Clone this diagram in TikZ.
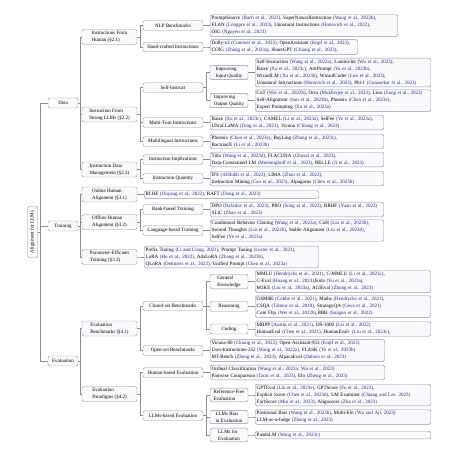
\documentclass[tikz,border=0pt]{standalone}
\usepackage{fontspec}
\setmainfont{Liberation Serif}
\definecolor{bordc}{HTML}{8A98AC}
\definecolor{fillc}{HTML}{FAFAFD}
\definecolor{linec}{HTML}{8C8C8C}
\definecolor{citec}{HTML}{22229A}
\newcommand\ct[1]{{\color{citec}(#1)}}
\newcommand\cn[3]{\draw[conn] (#1) -- ++(#3,0) |- (#2.west);}
\begin{document}
\begin{tikzpicture}[x=1pt,y=-1pt,
  box/.style={draw=bordc, fill=fillc, rounded corners=1.5pt, line width=0.45pt,
    font=\fontsize{5}{7}\selectfont, inner xsep=1.5pt, inner ysep=1.5pt},
  lvone/.style={box, minimum width=30pt, minimum height=10pt},
  lvtwo/.style={box, align=left, minimum width=55pt, minimum height=15pt},
  lvthree/.style={box, minimum width=60pt, minimum height=9.5pt},
  lvfour/.style={box, align=left, minimum width=38pt, minimum height=10pt},
  leaf/.style={box, align=left, anchor=west, text width=#1},
  conn/.style={draw=linec, line width=0.5pt}]
\useasboundingbox (0,0) rectangle (474,450);

% root
\node[box, rotate=90, minimum width=51pt, minimum height=10pt] (root) at (32.5,232) {Alignment for LLMs};

% level 1
\node[lvone] (data) at (63,103) {Data};
\node[lvone] (train) at (63,226) {Training};
\node[lvone] (eval) at (63,361) {Evaluation};

% level 2
\node[lvtwo] (ifh) at (109.5,37) {Instructions From\\Human (\S2.1)};
\node[lvtwo] (ifs) at (109.5,114.5) {Instruction From\\Strong LLMs (\S2.2)};
\node[lvtwo] (idm) at (109.5,169.5) {Instruction Data\\Management (\S2.3)};
\node[lvtwo] (oha) at (109.5,194.5) {Online Human\\Alignment (\S3.1)};
\node[lvtwo] (ofha) at (109.5,222) {Offline Human\\Alignment (\S3.2)};
\node[lvtwo] (pet) at (109.5,257) {Parameter-Efficient\\Training (\S3.3)};
\node[lvtwo] (evb) at (109.5,328.5) {Evaluation\\Benchmarks (\S4.1)};
\node[lvtwo] (evp) at (109.5,394) {Evaluation\\Paradigms (\S4.2)};

% level 3
\node[lvthree] (nlp) at (173,25.5) {NLP Benchmarks};
\node[lvthree] (hci) at (173,47) {Hand-crafted Instructions};
\node[lvthree] (si) at (173,87.5) {Self-Instruct};
\node[lvthree] (mti) at (173,122.5) {Multi-Turn Instructions};
\node[lvthree] (mli) at (173,141.5) {Multilingual Instructions};
\node[lvthree] (ii) at (173,159.5) {Instruction Implications};
\node[lvthree] (iq) at (173,178.5) {Instruction Quantity};
\node[lvthree] (rbt) at (173,209.5) {Rank-based Training};
\node[lvthree] (lbt) at (173,230.5) {Language-based Training};
\node[lvthree] (csb) at (173,306) {Closed-set Benchmarks};
\node[lvthree] (osb) at (173,350.5) {Open-set Benchmarks};
\node[lvthree] (hbe) at (173,372.5) {Human-based Evaluation};
\node[lvthree] (lle) at (173,415.5) {LLMs-based Evaluation};

% level 4
\node[lvfour] (iiq) at (229,72.5) {Improving\\Input Quality};
\node[lvfour] (ioq) at (229,100.5) {Improving\\Output Quality};
\node[lvfour] (gk) at (229,281.5) {General\\Knowledge};
\node[lvfour] (rs) at (229,306.5) {Reasoning};
\node[lvfour] (cd) at (229,329) {Coding};
\node[lvfour] (rfe) at (229,395) {Reference-Free\\Evaluation};
\node[lvfour] (lbe) at (229,417) {LLMs Bias\\in Evaluation};
\node[lvfour] (lfe) at (229,435) {LLMs for\\Evaluation};

% leaves
\node[leaf=184.5pt] (nlpL) at (210,25.5) {PromptSource \ct{Bach et al., 2022}, SuperNaturalInstruction \ct{Wang et al., 2022b},\\FLAN \ct{Longpre et al., 2023}, Unnatural Instructions \ct{Honovich et al., 2022},\\OIG \ct{Nguyen et al., 2023}};
\node[leaf=144.5pt] (hciL) at (210,47) {Dolly-v2 \ct{Conover et al., 2023}, OpenAssistant \ct{Kopf et al., 2023},\\COIG \ct{Zhang et al., 2023a}, ShareGPT \ct{Chiang et al., 2023},};
\node[leaf=172.5pt] (iiqL) at (255,72.5) {Self-Instruction \ct{Wang et al., 2022a}, Lamini-lm \ct{Wu et al., 2023},\\Baize \ct{Xu et al., 2023c}, AttrPrompt \ct{Yu et al., 2023b},\\WizardLM \ct{Xu et al., 2023b}, WizardCoder \ct{Luo et al., 2023},\\Unnatural Instructions \ct{Honovich et al., 2022}, Phi-1 \ct{Gunasekar et al., 2023}};
\node[leaf=172.5pt] (ioqL) at (255,100.5) {CoT \ct{Wei et al., 2022b}, Orca \ct{Mukherjee et al., 2023}, Lion \ct{Jiang et al., 2023}\\Self-Alignment \ct{Sun et al., 2023b}, Phoenix \ct{Chen et al., 2023e},\\Expert Prompting \ct{Xu et al., 2023a}};
\node[leaf=170.5pt] (mtiL) at (210,122.5) {Baize \ct{Xu et al., 2023c}, CAMEL \ct{Li et al., 2023a}, SelFee \ct{Ye et al., 2023a},\\UltraLLaMA \ct{Ding et al., 2023}, Vicuna \ct{Chiang et al., 2023}};
\node[leaf=170.5pt] (mliL) at (210,141.5) {Phoenix \ct{Chen et al., 2023e}, BayLing \ct{Zhang et al., 2023c},\\BactrianX \ct{Li et al., 2023b}};
\node[leaf=170.5pt] (iiL) at (210,159.5) {\textsc{T\"ulu} \ct{Wang et al., 2023d}, FLACUNA \ct{Ghosal et al., 2023},\\Data-Constrained LM \ct{Muennighoff et al., 2023}, BELLE \ct{Ji et al., 2023}};
\node[leaf=170.5pt] (iqL) at (210,178.5) {IFS \ct{AlShikh et al., 2023}, LIMA \ct{Zhou et al., 2023},\\Instruction Mining \ct{Cao et al., 2023}, Alpagasus \ct{Chen et al., 2023b}};
\node[leaf=171.5pt] (ohaL) at (144,194.5) {RLHF \ct{Ouyang et al., 2022}, RAFT \ct{Dong et al., 2023}};
\node[leaf=170.5pt] (rbtL) at (210,209.5) {DPO \ct{Rafailov et al., 2023}, PRO \ct{Song et al., 2023}, RRHF \ct{Yuan et al., 2023}\\SLiC \ct{Zhao et al., 2023}};
\node[leaf=170.5pt] (lbtL) at (210,230.5) {Conditional Behavior Cloning \ct{Wang et al., 2023a}, CoH \ct{Liu et al., 2023b},\\Second Thoughts \ct{Liu et al., 2022b}, Stable Alignment \ct{Liu et al., 2023d},\\SelFee \ct{Ye et al., 2023a}};
\node[leaf=171.5pt] (petL) at (144,257) {Prefix Tuning \ct{Li and Liang, 2021}, Prompt Tuning \ct{Lester et al., 2021},\\LoRA \ct{Hu et al., 2022}, AdaLoRA \ct{Zhang et al., 2023b},\\QLoRA \ct{Dettmers et al., 2023}, Unified Prompt \ct{Chen et al., 2023a}};
\node[leaf=172.5pt] (gkL) at (255,281.5) {MMLU \ct{Hendrycks et al., 2021}, C-MMLU \ct{Li et al., 2023c},\\C-Eval \ct{Huang et al., 2023},Kola \ct{Yu et al., 2023a},\\M3KE \ct{Liu et al., 2023a}, AGIEval \ct{Zhong et al., 2023}};
\node[leaf=172.5pt] (rsL) at (255,306.5) {GSM8K \ct{Cobbe et al., 2021}, Maths \ct{Hendrycks et al., 2021},\\CSQA \ct{Talmor et al., 2019}, StrategyQA \ct{Geva et al., 2021}\\Coin Flip \ct{Wei et al., 2022b},BBH \ct{Suzgun et al., 2022}};
\node[leaf=172.5pt] (cdL) at (255,329) {MBPP \ct{Austin et al., 2021}, DS-1000 \ct{Lai et al., 2022}\\HumanEval \ct{Chen et al., 2021}, HumanEval+ \ct{Liu et al., 2023c},};
\node[leaf=171.5pt] (osbL) at (210,350.5) {Vicuna-80 \ct{Chiang et al., 2023}, Open-Assistant-953 \ct{Kopf et al., 2023}\\User-Instructions-252 \ct{Wang et al., 2022a}, FLASK \ct{Ye et al., 2023b}\\MT-Bench \ct{Zheng et al., 2023}, AlpacaEval \ct{Dubois et al., 2023}};
\node[leaf=171.5pt] (hbeL) at (210,372.5) {Ordinal Classification \ct{Wang et al., 2022a; Wu et al., 2023}\\Pairwise Comparison \ct{Taori et al., 2023}, Elo \ct{Zheng et al., 2023}};
\node[leaf=172.5pt] (rfeL) at (255,395) {GPTEval \ct{Liu et al., 2023e}, GPTScore \ct{Fu et al., 2023},\\Explicit Score \ct{Chen et al., 2023d}, LM Examiner \ct{Chiang and Lee, 2023}\\FactScore \ct{Min et al., 2023}, Alignscore \ct{Zha et al., 2023}};
\node[leaf=172.5pt] (lbeL) at (255,417) {Positional Bias \ct{Wang et al., 2023b}, Multi-Elo \ct{Wu and Aji, 2023}\\LLM-as-a-Judge \ct{Zheng et al., 2023}};
\node[leaf=172.5pt] (lfeL) at (255,435) {PandaLM \ct{Wang et al., 2023c}};

% connectors
\cn{root.south}{data}{2.5}
\cn{root.south}{train}{2.5}
\cn{root.south}{eval}{2.5}
\cn{data.east}{ifh}{2}
\cn{data.east}{ifs}{2}
\cn{data.east}{idm}{2}
\cn{train.east}{oha}{2}
\cn{train.east}{ofha}{2}
\cn{train.east}{pet}{2}
\cn{eval.east}{evb}{2}
\cn{eval.east}{evp}{2}
\cn{ifh.east}{nlp}{3}
\cn{ifh.east}{hci}{3}
\cn{ifs.east}{si}{3}
\cn{ifs.east}{mti}{3}
\cn{ifs.east}{mli}{3}
\cn{idm.east}{ii}{3}
\cn{idm.east}{iq}{3}
\cn{oha.east}{ohaL}{3}
\cn{ofha.east}{rbt}{3}
\cn{ofha.east}{lbt}{3}
\cn{pet.east}{petL}{3}
\cn{evb.east}{csb}{3}
\cn{evb.east}{osb}{3}
\cn{evp.east}{hbe}{3}
\cn{evp.east}{lle}{3}
\cn{nlp.east}{nlpL}{3}
\cn{hci.east}{hciL}{3}
\cn{si.east}{iiq}{3}
\cn{si.east}{ioq}{3}
\cn{mti.east}{mtiL}{3}
\cn{mli.east}{mliL}{3}
\cn{ii.east}{iiL}{3}
\cn{iq.east}{iqL}{3}
\cn{rbt.east}{rbtL}{3}
\cn{lbt.east}{lbtL}{3}
\cn{csb.east}{gk}{3}
\cn{csb.east}{rs}{3}
\cn{csb.east}{cd}{3}
\cn{osb.east}{osbL}{3}
\cn{hbe.east}{hbeL}{3}
\cn{lle.east}{rfe}{3}
\cn{lle.east}{lbe}{3}
\cn{lle.east}{lfe}{3}
\cn{iiq.east}{iiqL}{3}
\cn{ioq.east}{ioqL}{3}
\cn{gk.east}{gkL}{3}
\cn{rs.east}{rsL}{3}
\cn{cd.east}{cdL}{3}
\cn{rfe.east}{rfeL}{3}
\cn{lbe.east}{lbeL}{3}
\cn{lfe.east}{lfeL}{3}
\end{tikzpicture}
\end{document}
